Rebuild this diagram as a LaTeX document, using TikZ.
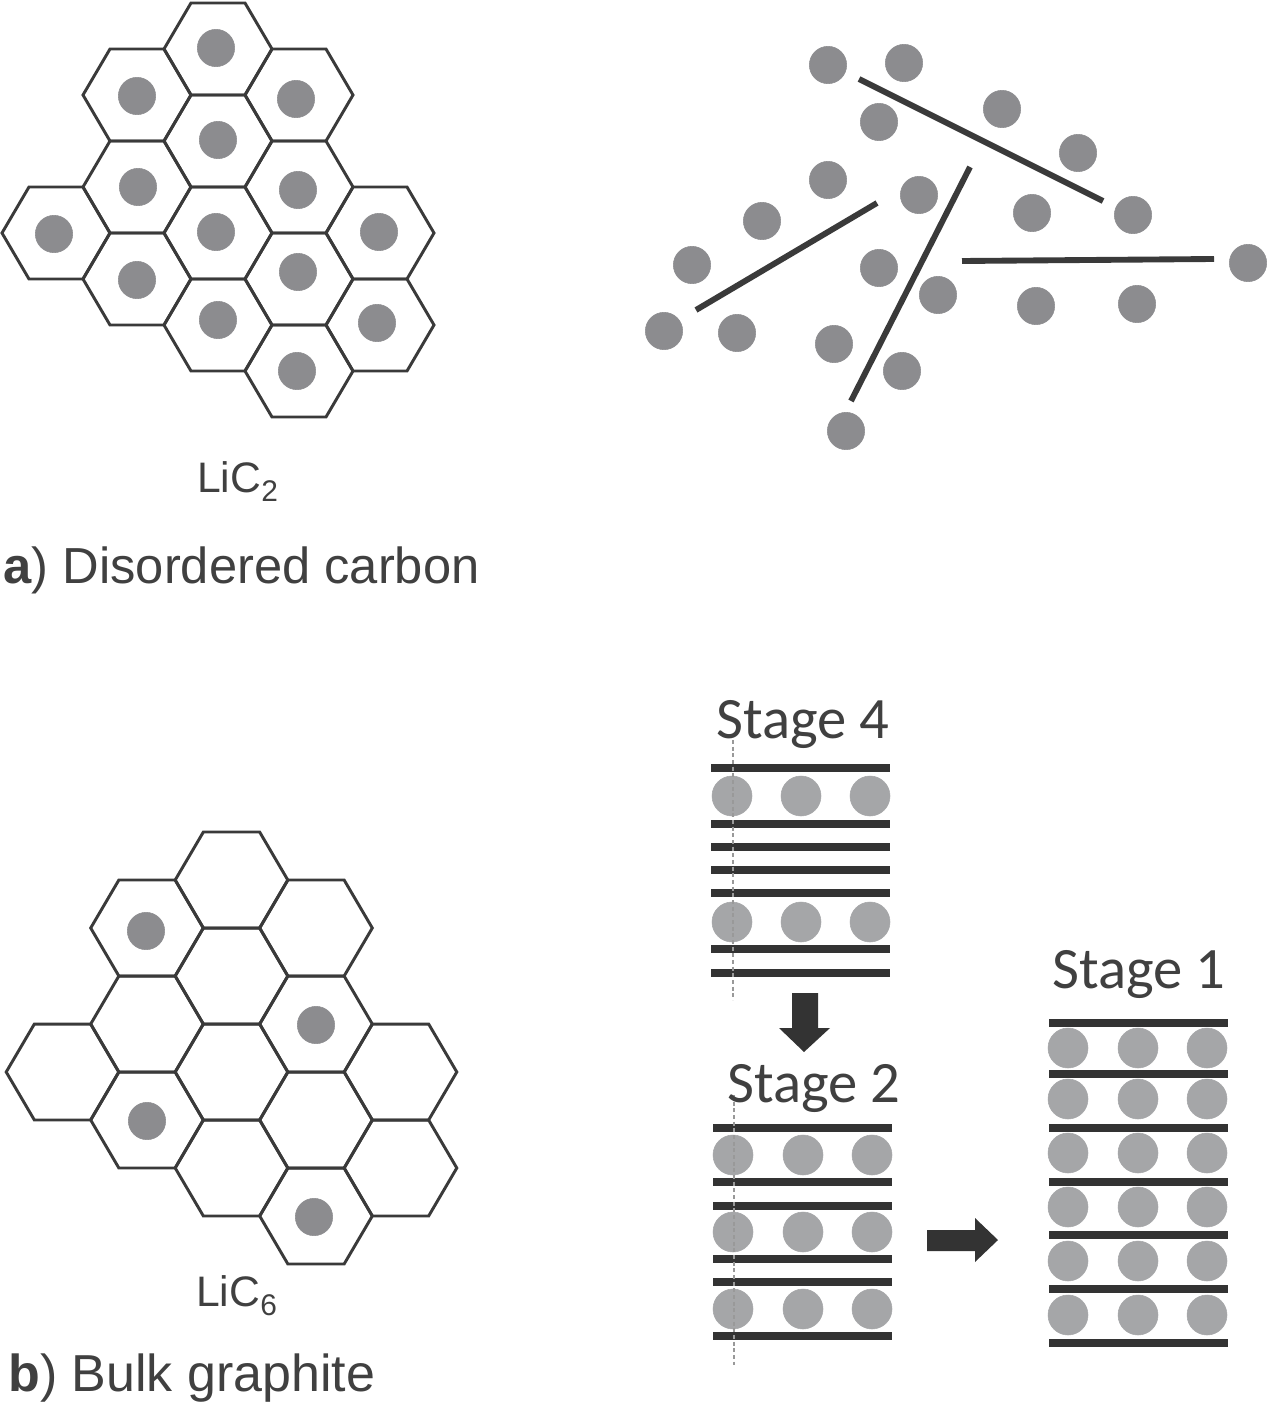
\documentclass[tikz,border=0pt]{standalone}
\usepackage{fontspec}
\usepackage{tkz-euclide}
\usetikzlibrary{shapes.geometric}
\setmainfont{Liberation Sans}
\newfontfamily\stagefont{Carlito}
\definecolor{hexline}{HTML}{3A3A3A}
\definecolor{bardark}{HTML}{333333}
\definecolor{lidark}{HTML}{8C8C8F}
\definecolor{lilight}{HTML}{A5A6A8}
\definecolor{labeltext}{HTML}{404040}
\tikzset{
  hexa/.style={draw=hexline,line width=2.2pt,regular polygon,regular polygon sides=6,minimum size=81pt,inner sep=0pt,transform shape,yscale=.984},
  hexb/.style={hexa,minimum size=84.45pt},
  captext/.style={anchor=base west,inner sep=0pt,text=labeltext,font=\fontsize{38}{44}\selectfont},
  captextb/.style={captext,font=\fontsize{39}{44}\selectfont},
  lictext/.style={anchor=base west,inner sep=0pt,text=labeltext,font=\fontsize{32}{36}\selectfont},
  stagetext/.style={anchor=base west,inner sep=0pt,text=labeltext,font=\stagefont\fontsize{44}{48}\selectfont},
  fatarrow/.style={fill=bardark,draw=none},
  sheet/.style={line width=4.4pt,color=hexline,line cap=butt},
  bar/.style={line width=6.4pt,color=bardark,line cap=butt},
  guide/.style={densely dashed,line width=1.2pt,color=gray!80,line cap=butt}
}
\begin{document}
\begin{tikzpicture}[x=.75pt,y=-.75pt]
                \useasboundingbox (0,0) rectangle (1270,1405);
                \node[hexa] (A1) at (218,49) {};  \node[hexa] (A2) at (218,141) {};
                \node[hexa] (A3) at (218,233) {}; \node[hexa] (A4) at (218,325) {};
                \node[hexa] (A5) at (137,95) {};  \node[hexa] (A6) at (137,187) {};
                \node[hexa] (A7) at (137,279) {}; \node[hexa] (A8) at (299,95) {};
                \node[hexa] (A9) at (299,187) {}; \node[hexa] (A10) at (299,279) {};
                \node[hexa] (A11) at (299,371) {}; \node[hexa] (A12) at (56,233) {};
                \node[hexa] (A13) at (380,233) {}; \node[hexa] (A14) at (380,325) {};
                \node[hexb] (B1) at (231.5,880) {};  \node[hexb] (B2) at (231.5,976) {};
                \node[hexb] (B3) at (231.5,1072) {}; \node[hexb] (B4) at (231.5,1168) {};
                \node[hexb] (B5) at (147,928) {};  \node[hexb] (B6) at (147,1024) {};
                \node[hexb] (B7) at (147,1120) {}; \node[hexb] (B8) at (316,928) {};
                \node[hexb] (B9) at (316,1024) {}; \node[hexb] (B10) at (316,1120) {};
                \node[hexb] (B11) at (316,1216) {}; \node[hexb] (B12) at (62.5,1072) {};
                \node[hexb] (B13) at (400.5,1072) {}; \node[hexb] (B14) at (400.5,1168) {};
                \tkzDefPoints{216/48/a1,137/96/a2,296/99/a3,218/140/a4,138/187/a5,298/190/a6,54/234/a7,216/232/a8,379/232/a9,137/280/a10,298/272/a11,218/320/a12,377/323/a13,297/371/a14}
                \tkzDefPoints{828/65/c1,904/63/c2,879/122/c3,1002/109/c4,1078/153/c5,828/180/c6,919/195/c7,762/221/c8,692/265/c9,1032/213/c10,1133/215/c11,879/268/c12,938/295/c13,664/331/c14,737/333/c15,1036/306/c16,1137/304/c17,1248/263/c18,834/344/c19,902/371/c20,846/431/c21}
                \tkzDefPoints{146/931/g1,316/1025/g2,147/1121/g3,314/1217/g4}
                \tkzDrawPoints[size=28,color=lidark,fill=lidark](a1,a2,a3,a4,a5,a6,a7,a8,a9,a10,a11,a12,a13,a14)
                \tkzDrawPoints[size=28,color=lidark,fill=lidark](c1,c2,c3,c4,c5,c6,c7,c8,c9,c10,c11,c12,c13,c14,c15,c16,c17,c18,c19,c20,c21)
                \tkzDrawPoints[size=28,color=lidark,fill=lidark](g1,g2,g3,g4)
                \tkzDefPoints{859/79/P1,1103/201/P2,877/203/Q1,696/310/Q2,970/167/R1,851/401/R2,962/261/S1,1214/259/S2}
                \tkzDrawSegments[sheet](P1,P2 Q1,Q2 R1,R2 S1,S2)
                % stage 4
                \tkzDefPoints{732/796/d1,801/796/d2,870/796/d3,732/922/d4,801/922/d5,870/922/d6}
                \tkzDrawPoints[size=30,color=lilight,fill=lilight](d1,d2,d3,d4,d5,d6)
                \tkzDefPoints{711/768/u1,890/768/v1,711/824/u2,890/824/v2,711/847/u3,890/847/v3,711/870/u4,890/870/v4,711/893/u5,890/893/v5,711/949/u6,890/949/v6,711/973/u7,890/973/v7}
                \tkzDrawSegments[bar](u1,v1 u2,v2 u3,v3 u4,v4 u5,v5 u6,v6 u7,v7)
                \tkzDefPoints{733/740/t1,733/1000/t2}
                \tkzDrawSegment[guide](t1,t2)
                % stage 2
                \tkzDefPoints{733/1155/e1,803/1155/e2,872/1155/e3,733/1232/e4,803/1232/e5,872/1232/e6,733/1309/e7,803/1309/e8,872/1309/e9}
                \tkzDrawPoints[size=30,color=lilight,fill=lilight](e1,e2,e3,e4,e5,e6,e7,e8,e9)
                \tkzDefPoints{713/1128/w1,892/1128/x1,713/1182/w2,892/1182/x2,713/1206/w3,892/1206/x3,713/1259/w4,892/1259/x4,713/1282/w5,892/1282/x5,713/1336/w6,892/1336/x6}
                \tkzDrawSegments[bar](w1,x1 w2,x2 w3,x3 w4,x4 w5,x5 w6,x6)
                \tkzDefPoints{734/1095/t3,734/1365/t4}
                \tkzDrawSegment[guide](t3,t4)
                % stage 1
                \tkzDefPoints{1068/1048/f1,1138/1048/f2,1207/1048/f3,1068/1099/f4,1138/1099/f5,1207/1099/f6,1068/1153/f7,1138/1153/f8,1207/1153/f9,1068/1207/f10,1138/1207/f11,1207/1207/f12,1068/1261/f13,1138/1261/f14,1207/1261/f15,1068/1315/f16,1138/1315/f17,1207/1315/f18}
                \tkzDrawPoints[size=30,color=lilight,fill=lilight](f1,f2,f3,f4,f5,f6,f7,f8,f9,f10,f11,f12,f13,f14,f15,f16,f17,f18)
                \tkzDefPoints{1049/1023/y1,1228/1023/z1,1049/1074/y2,1228/1074/z2,1049/1128/y3,1228/1128/z3,1049/1182/y4,1228/1182/z4,1049/1235/y5,1228/1235/z5,1049/1289/y6,1228/1289/z6,1049/1343/y7,1228/1343/z7}
                \tkzDrawSegments[bar](y1,z1 y2,z2 y3,z3 y4,z4 y5,z5 y6,z6 y7,z7)
                % arrows
                \tkzDefPoints{927/1230/r1,975/1230/r2,975/1218/r3,998/1240/r4,975/1262/r5,975/1251/r6,927/1251/r7}
                \tkzFillPolygon[fatarrow](r1,r2,r3,r4,r5,r6,r7)
                \tkzDefPoints{792/993/s1,818/993/s2,818/1028/s3,830/1028/s4,804/1052/s5,779/1028/s6,792/1028/s7}
                \tkzFillPolygon[fatarrow](s1,s2,s3,s4,s5,s6,s7)
                \node[lictext] (licA) at (197,492) {LiC\textsubscript{2}};
                \node[lictext] (licB) at (196,1306) {LiC\textsubscript{6}};
                \node[captext] (capA) at (3,583) {\textbf{a}) Disordered carbon};
                \node[captextb] (capB) at (8,1391) {\textbf{b}) Bulk graphite};
                \node[stagetext] (stageF) at (716,738) {Stage 4};
                \node[stagetext] (stageT) at (727,1102) {Stage 2};
                \node[stagetext] (stageO) at (1052,988) {Stage 1};
            \end{tikzpicture}
\end{document}
